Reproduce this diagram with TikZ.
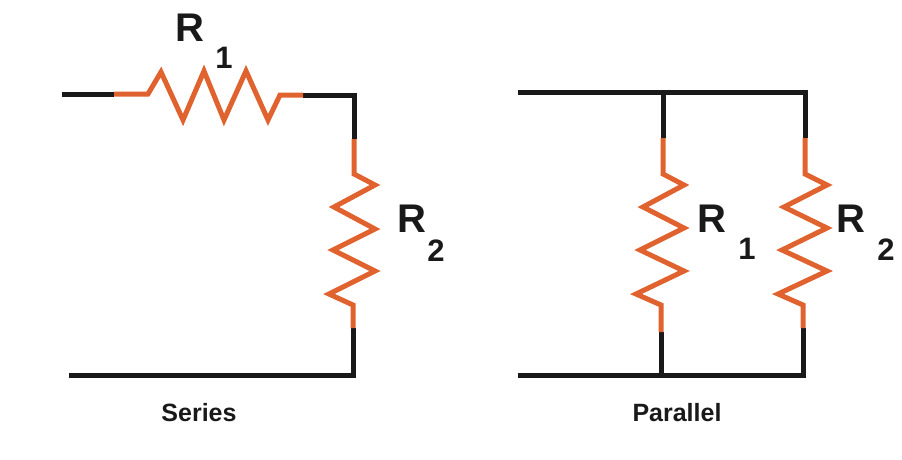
\documentclass[tikz,border=0pt]{standalone}
\usepackage{fontspec}
\setmainfont{Liberation Sans}
\definecolor{resorange}{HTML}{E0622E}
\tikzset{
    wire/.style={draw=black!90, line width=5pt, line join=miter},
    res/.style={draw=resorange, line width=5pt, line join=miter},
    letter/.style={inner sep=0pt, font=\fontsize{40}{48}\selectfont\bfseries, text=black!90},
    index/.style={inner sep=0pt, font=\fontsize{31}{37}\selectfont\bfseries, text=black!90},
    caption/.style={inner sep=0pt, font=\fontsize{25}{30}\selectfont\bfseries, text=black!90}
}

\begin{document}
\begin{tikzpicture}[x=1pt, y=-1pt]
    \useasboundingbox (0, 0) rectangle (902, 460);
    % series
    \coordinate (a) at (62, 94);
    \coordinate (b) at (114, 94);
    \coordinate (c) at (303, 95);
    \coordinate (d) at (354, 95);
    \coordinate (e) at (354, 139);
    \coordinate (f) at (353, 328);
    \coordinate (g) at (353, 375);
    \coordinate (h) at (69, 375);
    \draw [wire] (a) -- (b);
    \draw [wire] (c) -- (d) -- (e);
    \draw [wire] (f) -- (g) -- (h);
    \draw [res] (b) -- (148, 94) -- (161, 72) -- (183, 120) -- (204, 71) -- (224, 120) -- (246, 71) -- (268, 120) -- (280, 95) -- (c);
    \draw [res] (e) -- (354, 174) -- (375, 185) -- (334, 207) -- (375, 229) -- (333, 250) -- (375, 271) -- (329, 294) -- (353, 305) -- (f);
    % parallel
    \coordinate (i) at (518, 92);
    \coordinate (j) at (663, 92);
    \coordinate (k) at (805, 92);
    \coordinate (l) at (663, 138);
    \coordinate (m) at (805, 138);
    \coordinate (n) at (661, 332);
    \coordinate (o) at (803, 328);
    \coordinate (p) at (661, 375);
    \coordinate (q) at (803, 375);
    \coordinate (r) at (518, 375);
    \draw [wire] (i) -- (k) -- (m);
    \draw [wire] (j) -- (l);
    \draw [wire] (n) -- (p);
    \draw [wire] (o) -- (q) -- (r);
    \draw [res] (l) -- (663, 174) -- (684, 185) -- (643, 207) -- (684, 228) -- (640, 250) -- (684, 271) -- (636, 294) -- (661, 305) -- (n);
    \draw [res] (m) -- (805, 174) -- (827, 185) -- (784, 207) -- (827, 228) -- (782, 250) -- (827, 271) -- (778, 294) -- (803, 305) -- (o);
    % labels
    \node[letter] (r1s) at (190, 28) {R};
    \node[index] (n1s) at (224, 58) {1};
    \node[letter] (r2s) at (412, 219) {R};
    \node[index] (n2s) at (436, 251) {2};
    \node[letter] (r1p) at (712, 219) {R};
    \node[index] (n1p) at (747, 249) {1};
    \node[letter] (r2p) at (851, 219) {R};
    \node[index] (n2p) at (886, 250) {2};
    \node[caption] (series) at (199, 413) {Series};
    \node[caption] (parallel) at (677, 413) {Parallel};
\end{tikzpicture}
\end{document}
